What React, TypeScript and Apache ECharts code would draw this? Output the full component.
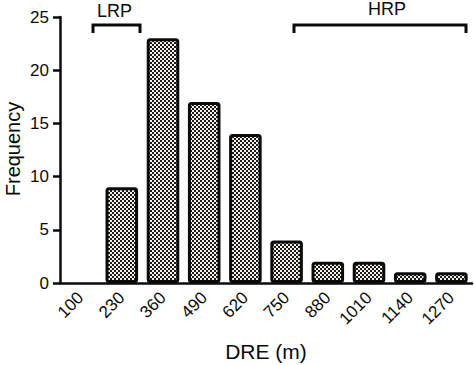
import React, { useEffect, useRef } from "react";
import * as echarts from "echarts";

const categories = ["100", "230", "360", "490", "620", "750", "880", "1010", "1140", "1270"];
const frequency = [0, 9, 23, 17, 14, 4, 2, 2, 1, 1];
const yTicks = { min: 0, max: 25, interval: 5 };
const xTitle = "DRE (m)";
const yTitle = "Frequency";
const lrpLabel = "LRP";
const hrpLabel = "HRP";

function makePattern(): HTMLCanvasElement {
  const c = document.createElement("canvas");
  c.width = 4;
  c.height = 4;
  const ctx = c.getContext("2d")!;
  ctx.fillStyle = "#f4f1ea";
  ctx.fillRect(0, 0, 4, 4);
  ctx.fillStyle = "#1a1a1a";
  ctx.fillRect(0, 0, 2, 2);
  ctx.fillRect(2, 2, 2, 2);
  return c;
}

export default function App() {
  const ref = useRef<HTMLDivElement>(null);
  useEffect(() => {
    if (!ref.current) return;
    const chart = echarts.init(ref.current, null, { renderer: "svg" });
    const font = "Liberation Sans, Arial, sans-serif";
    const dark = "#0a0a0a";
    const pattern = { image: makePattern(), repeat: "repeat" };
    chart.setOption({
      animation: false,
      grid: { left: 60, right: 2, top: 17, bottom: 82, containLabel: false, outerBoundsMode: "none" },
      xAxis: {
        type: "category",
        data: categories,
        name: xTitle,
        nameLocation: "middle",
        nameGap: 58,
        nameTextStyle: { fontFamily: font, fontSize: 21, color: dark },
        axisLine: { lineStyle: { color: dark, width: 2.5 } },
        axisTick: { alignWithLabel: true, length: 7, lineStyle: { color: dark, width: 2.5 } },
        axisLabel: { rotate: 45, margin: 12, fontFamily: font, fontSize: 17, color: dark, interval: 0 },
      },
      yAxis: {
        type: "value",
        min: yTicks.min,
        max: yTicks.max,
        interval: yTicks.interval,
        axisLine: { show: true, lineStyle: { color: dark, width: 2.5 } },
        axisTick: { show: true, length: 7, lineStyle: { color: dark, width: 2.5 } },
        axisLabel: { margin: 11, fontFamily: font, fontSize: 17, color: dark },
        splitLine: { show: false },
      },
      series: [
        {
          type: "bar",
          data: frequency.map((v) => ({ value: v, itemStyle: v === 0 ? { borderWidth: 0 } : undefined })),
          barWidth: "79%",
          itemStyle: {
            color: pattern,
            borderColor: dark,
            borderWidth: 3,
            borderRadius: 2,
          },
        },
      ],
      graphic: [
        {
          type: "text",
          x: 13,
          y: 149,
          rotation: Math.PI / 2,
          style: { text: yTitle, font: `20px ${font}`, fill: dark, align: "center", verticalAlign: "middle" },
        },
        { type: "text", left: 97, top: 2, style: { text: lrpLabel, font: `18px ${font}`, fill: dark } },
        { type: "polyline", shape: { points: [[93, 33], [93, 25], [140, 25], [140, 33]] }, style: { stroke: dark, lineWidth: 3, fill: null } },
        { type: "text", left: 368, top: 0, style: { text: hrpLabel, font: `18px ${font}`, fill: dark } },
        { type: "polyline", shape: { points: [[294, 33], [294, 25], [466, 25], [466, 33]] }, style: { stroke: dark, lineWidth: 3, fill: null } },
      ],
    });
    return () => chart.dispose();
  }, []);
  return <div ref={ref} style={{ width: 474, height: 365, position: "absolute", left: 0, top: 0 }} />;
}
